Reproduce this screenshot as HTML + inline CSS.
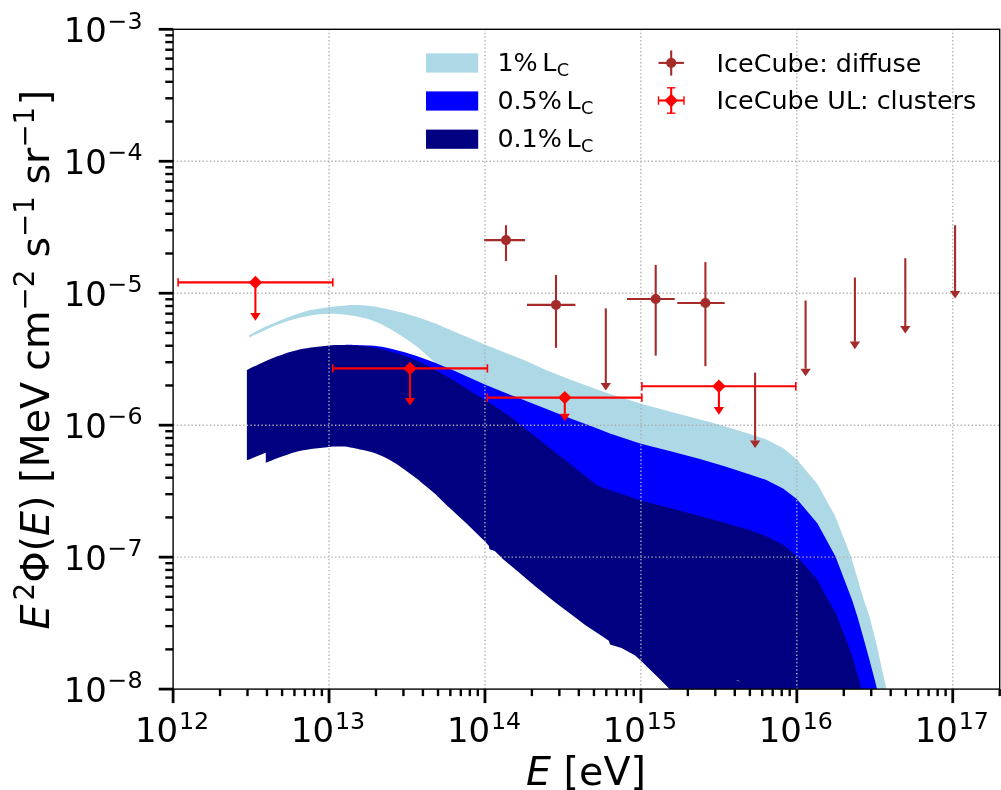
<!DOCTYPE html>
<html><head><meta charset="utf-8"><title>plot</title>
<style>html,body{margin:0;padding:0;background:#fff}svg{display:block}text{font-family:'DejaVu Sans','Liberation Sans',sans-serif;fill:#000}</style></head><body>
<svg width="1001" height="790" viewBox="0 0 1001 790">
<rect width="1001" height="790" fill="#fff"/>
<defs><clipPath id="ax"><rect x="173.1" y="29.3" width="826.6" height="659.8"/></clipPath></defs>
<g clip-path="url(#ax)">
<path fill="#add8e6" d="M249.1,335.1 C251.80,333.72 260.07,329.28 265.30,326.80 C270.53,324.32 275.43,322.25 280.50,320.20 C285.57,318.15 290.63,316.18 295.70,314.50 C300.77,312.82 305.38,311.32 310.90,310.10 C316.42,308.88 323.95,307.87 328.80,307.20 C333.65,306.53 335.93,306.45 340.00,306.10 C344.07,305.75 348.13,305.13 353.20,305.10 C358.27,305.07 365.00,305.30 370.40,305.90 C375.80,306.50 380.53,307.65 385.60,308.70 C390.67,309.75 395.73,310.85 400.80,312.20 C405.87,313.55 411.97,315.53 416.00,316.80 C420.03,318.07 421.83,318.72 425.00,319.80 C428.17,320.88 431.63,321.98 435.00,323.30 C438.37,324.62 440.12,325.53 445.20,327.70 C450.28,329.87 458.92,333.52 465.50,336.30 L484.7,344.4 L506.0,353.0 L525.0,360.5 L545.3,369.7 L570.6,379.8 L595.9,388.9 L610.0,394.1 L620.0,397.0 L640.9,403.7 L670.7,411.8 L700.0,419.6 L710.0,421.9 L725.3,426.6 L750.6,434.2 L765.8,439.3 L783.0,447.9 L796.8,459.5 L817.4,483.9 L835.2,516.3 L851.2,557.2 L863.8,600.0 L869.7,617.2 L876.8,645.5 L884.4,680.0 L886.4,689.1 L700.0,689.1 L650.0,600.0 L500.0,450.0 L435.0,362.5 C433.52,361.20 429.27,357.43 426.10,354.70 C422.93,351.97 420.22,349.30 416.00,346.10 C411.78,342.90 405.87,338.78 400.80,335.50 C395.73,332.22 390.67,329.02 385.60,326.40 C380.53,323.78 375.80,321.58 370.40,319.80 C365.00,318.02 358.27,316.63 353.20,315.70 C348.13,314.77 344.07,314.53 340.00,314.20 C335.93,313.87 333.65,313.50 328.80,313.70 C323.95,313.90 316.42,314.57 310.90,315.40 C305.38,316.23 300.77,317.33 295.70,318.70 C290.63,320.07 285.57,321.73 280.50,323.60 C275.43,325.47 270.53,327.55 265.30,329.90 C260.07,332.25 251.80,336.40 249.10,337.70 Z"/>
<path fill="#0000ff" d="M345.0,345.0 C346.37,344.98 348.97,344.80 353.20,344.90 C357.43,345.00 365.00,345.15 370.40,345.60 C375.80,346.05 380.53,346.67 385.60,347.60 C390.67,348.53 395.73,349.85 400.80,351.20 C405.87,352.55 411.97,354.40 416.00,355.70 C420.03,357.00 421.83,357.83 425.00,359.00 C428.17,360.17 429.93,360.67 435.00,362.70 C440.07,364.73 447.10,367.55 455.40,371.20 L484.8,384.6 L514.8,396.6 L545.3,408.6 L570.6,418.6 L590.9,426.0 L610.0,433.4 L625.0,438.4 L640.9,443.7 L670.7,451.3 L700.0,459.0 L725.3,466.6 L750.6,474.7 L765.8,479.8 L783.0,488.4 L796.8,499.0 L817.5,523.4 L835.5,556.4 L852.1,600.0 L857.6,617.2 L863.6,638.5 L869.7,660.7 L874.8,680.0 L877.0,689.1 L700.0,689.1 L650.0,600.0 L500.0,450.0 L340.0,400.0  Z"/>
<path fill="#000080" d="M246.9,370.0 C249.97,368.53 259.70,363.67 265.30,361.20 C270.90,358.73 275.43,356.97 280.50,355.20 C285.57,353.43 290.63,351.87 295.70,350.60 C300.77,349.33 305.38,348.45 310.90,347.60 C316.42,346.75 323.95,345.93 328.80,345.50 C333.65,345.07 335.93,345.03 340.00,345.00 C344.07,344.97 348.13,344.95 353.20,345.30 C358.27,345.65 365.00,346.28 370.40,347.10 C375.80,347.92 380.53,348.93 385.60,350.20 C390.67,351.47 395.73,353.02 400.80,354.70 C405.87,356.38 411.97,358.65 416.00,360.30 C420.03,361.95 421.83,363.00 425.00,364.60 C428.17,366.20 431.63,368.05 435.00,369.90 C438.37,371.75 442.70,374.30 445.20,375.70 C447.70,377.10 446.62,376.27 450.00,378.30 C453.38,380.33 461.07,385.12 465.50,387.90 C469.93,390.68 473.38,393.07 476.60,395.00 L484.8,399.5 L510.7,416.9 L525.0,428.4 L550.3,448.2 L575.6,468.5 L596.9,485.3 L615.0,492.1 L625.0,494.9 L640.8,500.4 L675.7,509.5 L705.0,517.6 L715.0,519.9 L730.3,524.4 L750.6,530.4 L765.7,536.0 L782.9,544.6 L796.8,556.3 L817.3,579.7 L828.1,600.0 L835.8,613.2 L844.4,635.4 L852.0,655.7 L859.1,680.0 L861.6,689.1 L669.8,689.1 L669.1,688.4 L657.9,677.2 L640.7,660.5 L635.2,655.5 L621.5,647.9 L610.1,644.4 L608.8,640.8 L600.7,635.3 L585.1,625.0 L576.0,617.9 L555.7,602.7 L535.5,586.5 L515.2,569.3 L502.9,558.9 L494.8,550.9 L489.5,549.3 L488.8,545.8 L484.7,541.2 L465.5,522.5 C458.92,516.27 450.28,508.58 445.20,503.80 C440.12,499.02 438.37,496.83 435.00,493.80 C431.63,490.77 428.17,488.22 425.00,485.60 C421.83,482.98 420.03,481.22 416.00,478.10 C411.97,474.98 405.87,470.28 400.80,466.90 C395.73,463.52 390.67,460.32 385.60,457.80 C380.53,455.28 376.30,453.53 370.40,451.80 C364.50,450.07 355.27,448.27 350.20,447.40 C345.13,446.53 343.57,446.68 340.00,446.60 C336.43,446.52 333.65,446.50 328.80,446.90 C323.95,447.30 316.42,448.15 310.90,449.00 C305.38,449.85 300.77,450.65 295.70,452.00 C290.63,453.35 285.48,455.30 280.50,457.10 C275.52,458.90 268.25,461.85 265.80,462.80 L265.8,452.8 C262.65,454.05 250.05,459.05 246.90,460.30 Z"/>
<polygon fill="#fff" points="736.6,680.0 739.2,681.0 739.4,681.6 736.8,680.6"/>
</g>
<g stroke="#b0b0b0" stroke-width="1.39" stroke-dasharray="1.39 2.29" fill="none">
<line x1="329.03" y1="689.10" x2="329.03" y2="29.30"/>
<line x1="484.96" y1="689.10" x2="484.96" y2="29.30"/>
<line x1="640.90" y1="689.10" x2="640.90" y2="29.30"/>
<line x1="796.83" y1="689.10" x2="796.83" y2="29.30"/>
<line x1="952.76" y1="689.10" x2="952.76" y2="29.30"/>
<line x1="173.10" y1="557.14" x2="999.70" y2="557.14"/>
<line x1="173.10" y1="425.18" x2="999.70" y2="425.18"/>
<line x1="173.10" y1="293.22" x2="999.70" y2="293.22"/>
<line x1="173.10" y1="161.26" x2="999.70" y2="161.26"/>
</g>
<g clip-path="url(#ax)">
<g stroke="#a52a2a" stroke-width="2.10" fill="#a52a2a">
<line x1="484.2" y1="240.1" x2="525.1" y2="240.1"/>
<line x1="506.0" y1="225.3" x2="506.0" y2="261.1"/>
<circle cx="506.0" cy="240.1" r="4.3" stroke-width="1.39"/>
<line x1="527.0" y1="304.9" x2="575.4" y2="304.9"/>
<line x1="556.0" y1="274.9" x2="556.0" y2="347.8"/>
<circle cx="556.0" cy="304.9" r="4.3" stroke-width="1.39"/>
<line x1="627.0" y1="299.0" x2="674.7" y2="299.0"/>
<line x1="655.7" y1="264.9" x2="655.7" y2="355.6"/>
<circle cx="655.7" cy="299.0" r="4.3" stroke-width="1.39"/>
<line x1="677.3" y1="303.0" x2="724.7" y2="303.0"/>
<line x1="705.4" y1="262.1" x2="705.4" y2="366.2"/>
<circle cx="705.4" cy="303.0" r="4.3" stroke-width="1.39"/>
<line x1="605.8" y1="308.4" x2="605.8" y2="383.1"/>
<polygon points="600.65,383.00 605.80,390.60 610.95,383.00" stroke="none"/>
<line x1="755.1" y1="372.6" x2="755.1" y2="440.6"/>
<polygon points="749.95,440.50 755.10,448.10 760.25,440.50" stroke="none"/>
<line x1="805.6" y1="300.4" x2="805.6" y2="368.8"/>
<polygon points="800.45,368.70 805.60,376.30 810.75,368.70" stroke="none"/>
<line x1="854.9" y1="277.5" x2="854.9" y2="341.7"/>
<polygon points="849.75,341.60 854.90,349.20 860.05,341.60" stroke="none"/>
<line x1="905.3" y1="258.3" x2="905.3" y2="326.1"/>
<polygon points="900.15,326.00 905.30,333.60 910.45,326.00" stroke="none"/>
<line x1="955.1" y1="225.3" x2="955.1" y2="291.1"/>
<polygon points="949.95,291.00 955.10,298.60 960.25,291.00" stroke="none"/>
</g>
<g stroke="#ff0000" stroke-width="2.10" fill="#ff0000">
<line x1="178.1" y1="282.4" x2="332.8" y2="282.4"/>
<line x1="178.1" y1="278.2" x2="178.1" y2="286.6" stroke-width="1.6"/>
<line x1="332.8" y1="278.2" x2="332.8" y2="286.6" stroke-width="1.6"/>
<line x1="255.4" y1="282.4" x2="255.4" y2="313.2"/>
<polygon points="250.25,313.10 255.40,320.70 260.55,313.10" stroke="none"/>
<polygon points="248.7,282.4 255.4,275.7 262.1,282.4 255.4,289.1" stroke="none"/>
<line x1="332.8" y1="368.4" x2="487.4" y2="368.4"/>
<line x1="332.8" y1="364.2" x2="332.8" y2="372.6" stroke-width="1.6"/>
<line x1="487.4" y1="364.2" x2="487.4" y2="372.6" stroke-width="1.6"/>
<line x1="410.0" y1="368.4" x2="410.0" y2="398.0"/>
<polygon points="404.85,397.90 410.00,405.50 415.15,397.90" stroke="none"/>
<polygon points="403.3,368.4 410.0,361.7 416.7,368.4 410.0,375.1" stroke="none"/>
<line x1="487.4" y1="397.6" x2="641.9" y2="397.6"/>
<line x1="487.4" y1="393.4" x2="487.4" y2="401.8" stroke-width="1.6"/>
<line x1="641.9" y1="393.4" x2="641.9" y2="401.8" stroke-width="1.6"/>
<line x1="564.8" y1="397.6" x2="564.8" y2="413.8"/>
<polygon points="559.65,413.70 564.80,421.30 569.95,413.70" stroke="none"/>
<polygon points="558.1,397.6 564.8,390.9 571.5,397.6 564.8,404.3" stroke="none"/>
<line x1="641.9" y1="386.2" x2="795.8" y2="386.2"/>
<line x1="641.9" y1="382.0" x2="641.9" y2="390.4" stroke-width="1.6"/>
<line x1="795.8" y1="382.0" x2="795.8" y2="390.4" stroke-width="1.6"/>
<line x1="718.9" y1="386.2" x2="718.9" y2="407.2"/>
<polygon points="713.75,407.10 718.90,414.70 724.05,407.10" stroke="none"/>
<polygon points="712.2,386.2 718.9,379.5 725.6,386.2 718.9,392.9" stroke="none"/>
</g></g>
<g stroke="#000" fill="none">
<line x1="173.10" y1="689.10" x2="173.10" y2="703.10" stroke-width="2.78"/>
<line x1="220.04" y1="689.10" x2="220.04" y2="696.10" stroke-width="2.4"/>
<line x1="247.50" y1="689.10" x2="247.50" y2="696.10" stroke-width="2.4"/>
<line x1="266.98" y1="689.10" x2="266.98" y2="696.10" stroke-width="2.4"/>
<line x1="282.09" y1="689.10" x2="282.09" y2="696.10" stroke-width="2.4"/>
<line x1="294.44" y1="689.10" x2="294.44" y2="696.10" stroke-width="2.4"/>
<line x1="304.88" y1="689.10" x2="304.88" y2="696.10" stroke-width="2.4"/>
<line x1="313.92" y1="689.10" x2="313.92" y2="696.10" stroke-width="2.4"/>
<line x1="321.90" y1="689.10" x2="321.90" y2="696.10" stroke-width="2.4"/>
<line x1="329.03" y1="689.10" x2="329.03" y2="703.10" stroke-width="2.78"/>
<line x1="375.97" y1="689.10" x2="375.97" y2="696.10" stroke-width="2.4"/>
<line x1="403.43" y1="689.10" x2="403.43" y2="696.10" stroke-width="2.4"/>
<line x1="422.91" y1="689.10" x2="422.91" y2="696.10" stroke-width="2.4"/>
<line x1="438.02" y1="689.10" x2="438.02" y2="696.10" stroke-width="2.4"/>
<line x1="450.37" y1="689.10" x2="450.37" y2="696.10" stroke-width="2.4"/>
<line x1="460.81" y1="689.10" x2="460.81" y2="696.10" stroke-width="2.4"/>
<line x1="469.85" y1="689.10" x2="469.85" y2="696.10" stroke-width="2.4"/>
<line x1="477.83" y1="689.10" x2="477.83" y2="696.10" stroke-width="2.4"/>
<line x1="484.96" y1="689.10" x2="484.96" y2="703.10" stroke-width="2.78"/>
<line x1="531.90" y1="689.10" x2="531.90" y2="696.10" stroke-width="2.4"/>
<line x1="559.36" y1="689.10" x2="559.36" y2="696.10" stroke-width="2.4"/>
<line x1="578.84" y1="689.10" x2="578.84" y2="696.10" stroke-width="2.4"/>
<line x1="593.96" y1="689.10" x2="593.96" y2="696.10" stroke-width="2.4"/>
<line x1="606.30" y1="689.10" x2="606.30" y2="696.10" stroke-width="2.4"/>
<line x1="616.74" y1="689.10" x2="616.74" y2="696.10" stroke-width="2.4"/>
<line x1="625.78" y1="689.10" x2="625.78" y2="696.10" stroke-width="2.4"/>
<line x1="633.76" y1="689.10" x2="633.76" y2="696.10" stroke-width="2.4"/>
<line x1="640.90" y1="689.10" x2="640.90" y2="703.10" stroke-width="2.78"/>
<line x1="687.84" y1="689.10" x2="687.84" y2="696.10" stroke-width="2.4"/>
<line x1="715.29" y1="689.10" x2="715.29" y2="696.10" stroke-width="2.4"/>
<line x1="734.78" y1="689.10" x2="734.78" y2="696.10" stroke-width="2.4"/>
<line x1="749.89" y1="689.10" x2="749.89" y2="696.10" stroke-width="2.4"/>
<line x1="762.23" y1="689.10" x2="762.23" y2="696.10" stroke-width="2.4"/>
<line x1="772.67" y1="689.10" x2="772.67" y2="696.10" stroke-width="2.4"/>
<line x1="781.72" y1="689.10" x2="781.72" y2="696.10" stroke-width="2.4"/>
<line x1="789.69" y1="689.10" x2="789.69" y2="696.10" stroke-width="2.4"/>
<line x1="796.83" y1="689.10" x2="796.83" y2="703.10" stroke-width="2.78"/>
<line x1="843.77" y1="689.10" x2="843.77" y2="696.10" stroke-width="2.4"/>
<line x1="871.23" y1="689.10" x2="871.23" y2="696.10" stroke-width="2.4"/>
<line x1="890.71" y1="689.10" x2="890.71" y2="696.10" stroke-width="2.4"/>
<line x1="905.82" y1="689.10" x2="905.82" y2="696.10" stroke-width="2.4"/>
<line x1="918.17" y1="689.10" x2="918.17" y2="696.10" stroke-width="2.4"/>
<line x1="928.61" y1="689.10" x2="928.61" y2="696.10" stroke-width="2.4"/>
<line x1="937.65" y1="689.10" x2="937.65" y2="696.10" stroke-width="2.4"/>
<line x1="945.62" y1="689.10" x2="945.62" y2="696.10" stroke-width="2.4"/>
<line x1="952.76" y1="689.10" x2="952.76" y2="703.10" stroke-width="2.78"/>
<line x1="999.70" y1="689.10" x2="999.70" y2="696.10" stroke-width="2.4"/>
<line x1="173.10" y1="689.10" x2="158.70" y2="689.10" stroke-width="2.78"/>
<line x1="173.10" y1="649.38" x2="165.30" y2="649.38" stroke-width="2.4"/>
<line x1="173.10" y1="626.14" x2="165.30" y2="626.14" stroke-width="2.4"/>
<line x1="173.10" y1="609.65" x2="165.30" y2="609.65" stroke-width="2.4"/>
<line x1="173.10" y1="596.86" x2="165.30" y2="596.86" stroke-width="2.4"/>
<line x1="173.10" y1="586.42" x2="165.30" y2="586.42" stroke-width="2.4"/>
<line x1="173.10" y1="577.58" x2="165.30" y2="577.58" stroke-width="2.4"/>
<line x1="173.10" y1="569.93" x2="165.30" y2="569.93" stroke-width="2.4"/>
<line x1="173.10" y1="563.18" x2="165.30" y2="563.18" stroke-width="2.4"/>
<line x1="173.10" y1="557.14" x2="158.70" y2="557.14" stroke-width="2.78"/>
<line x1="173.10" y1="517.42" x2="165.30" y2="517.42" stroke-width="2.4"/>
<line x1="173.10" y1="494.18" x2="165.30" y2="494.18" stroke-width="2.4"/>
<line x1="173.10" y1="477.69" x2="165.30" y2="477.69" stroke-width="2.4"/>
<line x1="173.10" y1="464.90" x2="165.30" y2="464.90" stroke-width="2.4"/>
<line x1="173.10" y1="454.46" x2="165.30" y2="454.46" stroke-width="2.4"/>
<line x1="173.10" y1="445.62" x2="165.30" y2="445.62" stroke-width="2.4"/>
<line x1="173.10" y1="437.97" x2="165.30" y2="437.97" stroke-width="2.4"/>
<line x1="173.10" y1="431.22" x2="165.30" y2="431.22" stroke-width="2.4"/>
<line x1="173.10" y1="425.18" x2="158.70" y2="425.18" stroke-width="2.78"/>
<line x1="173.10" y1="385.46" x2="165.30" y2="385.46" stroke-width="2.4"/>
<line x1="173.10" y1="362.22" x2="165.30" y2="362.22" stroke-width="2.4"/>
<line x1="173.10" y1="345.73" x2="165.30" y2="345.73" stroke-width="2.4"/>
<line x1="173.10" y1="332.94" x2="165.30" y2="332.94" stroke-width="2.4"/>
<line x1="173.10" y1="322.50" x2="165.30" y2="322.50" stroke-width="2.4"/>
<line x1="173.10" y1="313.66" x2="165.30" y2="313.66" stroke-width="2.4"/>
<line x1="173.10" y1="306.01" x2="165.30" y2="306.01" stroke-width="2.4"/>
<line x1="173.10" y1="299.26" x2="165.30" y2="299.26" stroke-width="2.4"/>
<line x1="173.10" y1="293.22" x2="158.70" y2="293.22" stroke-width="2.78"/>
<line x1="173.10" y1="253.50" x2="165.30" y2="253.50" stroke-width="2.4"/>
<line x1="173.10" y1="230.26" x2="165.30" y2="230.26" stroke-width="2.4"/>
<line x1="173.10" y1="213.77" x2="165.30" y2="213.77" stroke-width="2.4"/>
<line x1="173.10" y1="200.98" x2="165.30" y2="200.98" stroke-width="2.4"/>
<line x1="173.10" y1="190.54" x2="165.30" y2="190.54" stroke-width="2.4"/>
<line x1="173.10" y1="181.70" x2="165.30" y2="181.70" stroke-width="2.4"/>
<line x1="173.10" y1="174.05" x2="165.30" y2="174.05" stroke-width="2.4"/>
<line x1="173.10" y1="167.30" x2="165.30" y2="167.30" stroke-width="2.4"/>
<line x1="173.10" y1="161.26" x2="158.70" y2="161.26" stroke-width="2.78"/>
<line x1="173.10" y1="121.54" x2="165.30" y2="121.54" stroke-width="2.4"/>
<line x1="173.10" y1="98.30" x2="165.30" y2="98.30" stroke-width="2.4"/>
<line x1="173.10" y1="81.81" x2="165.30" y2="81.81" stroke-width="2.4"/>
<line x1="173.10" y1="69.02" x2="165.30" y2="69.02" stroke-width="2.4"/>
<line x1="173.10" y1="58.58" x2="165.30" y2="58.58" stroke-width="2.4"/>
<line x1="173.10" y1="49.74" x2="165.30" y2="49.74" stroke-width="2.4"/>
<line x1="173.10" y1="42.09" x2="165.30" y2="42.09" stroke-width="2.4"/>
<line x1="173.10" y1="35.34" x2="165.30" y2="35.34" stroke-width="2.4"/>
<line x1="173.10" y1="29.30" x2="158.70" y2="29.30" stroke-width="2.78"/>
<rect x="173.10" y="29.30" width="826.60" height="659.80" stroke-width="1.39"/>
</g>
<text x="135.0" y="742.2" font-size="33.90">10<tspan dx="0.9" dy="-13.4" font-size="23.73">12</tspan></text>
<text x="290.9" y="742.2" font-size="33.90">10<tspan dx="0.9" dy="-13.4" font-size="23.73">13</tspan></text>
<text x="446.9" y="742.2" font-size="33.90">10<tspan dx="0.9" dy="-13.4" font-size="23.73">14</tspan></text>
<text x="602.8" y="742.2" font-size="33.90">10<tspan dx="0.9" dy="-13.4" font-size="23.73">15</tspan></text>
<text x="758.7" y="742.2" font-size="33.90">10<tspan dx="0.9" dy="-13.4" font-size="23.73">16</tspan></text>
<text x="914.7" y="742.2" font-size="33.90">10<tspan dx="0.9" dy="-13.4" font-size="23.73">17</tspan></text>
<text x="63.8" y="701.6" font-size="33.90">10<tspan dx="0.6" dy="-13.4" font-size="23.73">−8</tspan></text>
<text x="63.8" y="569.7" font-size="33.90">10<tspan dx="0.6" dy="-13.4" font-size="23.73">−7</tspan></text>
<text x="63.8" y="437.7" font-size="33.90">10<tspan dx="0.6" dy="-13.4" font-size="23.73">−6</tspan></text>
<text x="63.8" y="305.8" font-size="33.90">10<tspan dx="0.6" dy="-13.4" font-size="23.73">−5</tspan></text>
<text x="63.8" y="173.8" font-size="33.90">10<tspan dx="0.6" dy="-13.4" font-size="23.73">−4</tspan></text>
<text x="63.8" y="41.9" font-size="33.90">10<tspan dx="0.6" dy="-13.4" font-size="23.73">−3</tspan></text>
<text x="526" y="784.7" font-size="39.60"><tspan font-style="oblique">E</tspan> [eV]</text>
<text transform="translate(49.3,629.4) rotate(-90)" font-size="39.60" xml:space="preserve"><tspan font-style="oblique">E</tspan><tspan dx="3.8" dy="-14.9" font-size="27.72">2</tspan><tspan dx="0.4" dy="14.9">Φ(</tspan><tspan font-style="oblique">E</tspan><tspan>) [MeV </tspan><tspan dx="-1.4">cm</tspan><tspan dy="-14.9" font-size="27.72">−2</tspan><tspan dy="14.9"> </tspan><tspan dx="-0.6">s</tspan><tspan dy="-14.9" font-size="27.72">−1</tspan><tspan dy="14.9"> </tspan><tspan dx="-1.1">sr</tspan><tspan dy="-14.9" font-size="27.72">−1</tspan><tspan dx="1.4" dy="14.9">]</tspan></text>
<rect x="426.0" y="53.4" width="52.2" height="19.2" fill="#add8e6"/>
<text x="497.4" y="71.2" font-size="25.40">1%<tspan dx="4.6">L</tspan><tspan dx="0.4" dy="4.3" font-size="17.78">C</tspan></text>
<rect x="426.0" y="91.4" width="52.2" height="19.2" fill="#0000ff"/>
<text x="497.4" y="109.2" font-size="25.40">0.5%<tspan dx="4.6">L</tspan><tspan dx="0.4" dy="4.3" font-size="17.78">C</tspan></text>
<rect x="426.0" y="129.6" width="52.2" height="19.2" fill="#000080"/>
<text x="497.4" y="147.4" font-size="25.40">0.1%<tspan dx="4.6">L</tspan><tspan dx="0.4" dy="4.3" font-size="17.78">C</tspan></text>
<g stroke="#a52a2a" stroke-width="2.10" fill="#a52a2a">
<line x1="658.5" y1="62.9" x2="683.9" y2="62.9"/><line x1="671.2" y1="50.4" x2="671.2" y2="75.6"/><circle cx="671.2" cy="62.9" r="4.3" stroke-width="1.39"/>
</g>
<g stroke="#ff0000" stroke-width="2.10" fill="#ff0000">
<line x1="658.5" y1="100.5" x2="683.9" y2="100.5"/><line x1="671.2" y1="87.7" x2="671.2" y2="113.3"/>
<line x1="658.5" y1="96.3" x2="658.5" y2="104.7" stroke-width="1.39"/>
<line x1="667.0" y1="87.8" x2="675.4" y2="87.8" stroke-width="1.39"/>
<line x1="684.0" y1="96.3" x2="684.0" y2="104.7" stroke-width="1.39"/>
<line x1="667.0" y1="113.2" x2="675.4" y2="113.2" stroke-width="1.39"/>
<polygon points="664.5,100.5 671.2,93.8 677.9,100.5 671.2,107.2" stroke="none"/>
</g>
<text x="716.6" y="71.5" font-size="25.40">IceCube: diffuse</text>
<text x="716.6" y="109.0" font-size="25.40">IceCube UL: clusters</text>
</svg></body></html>
